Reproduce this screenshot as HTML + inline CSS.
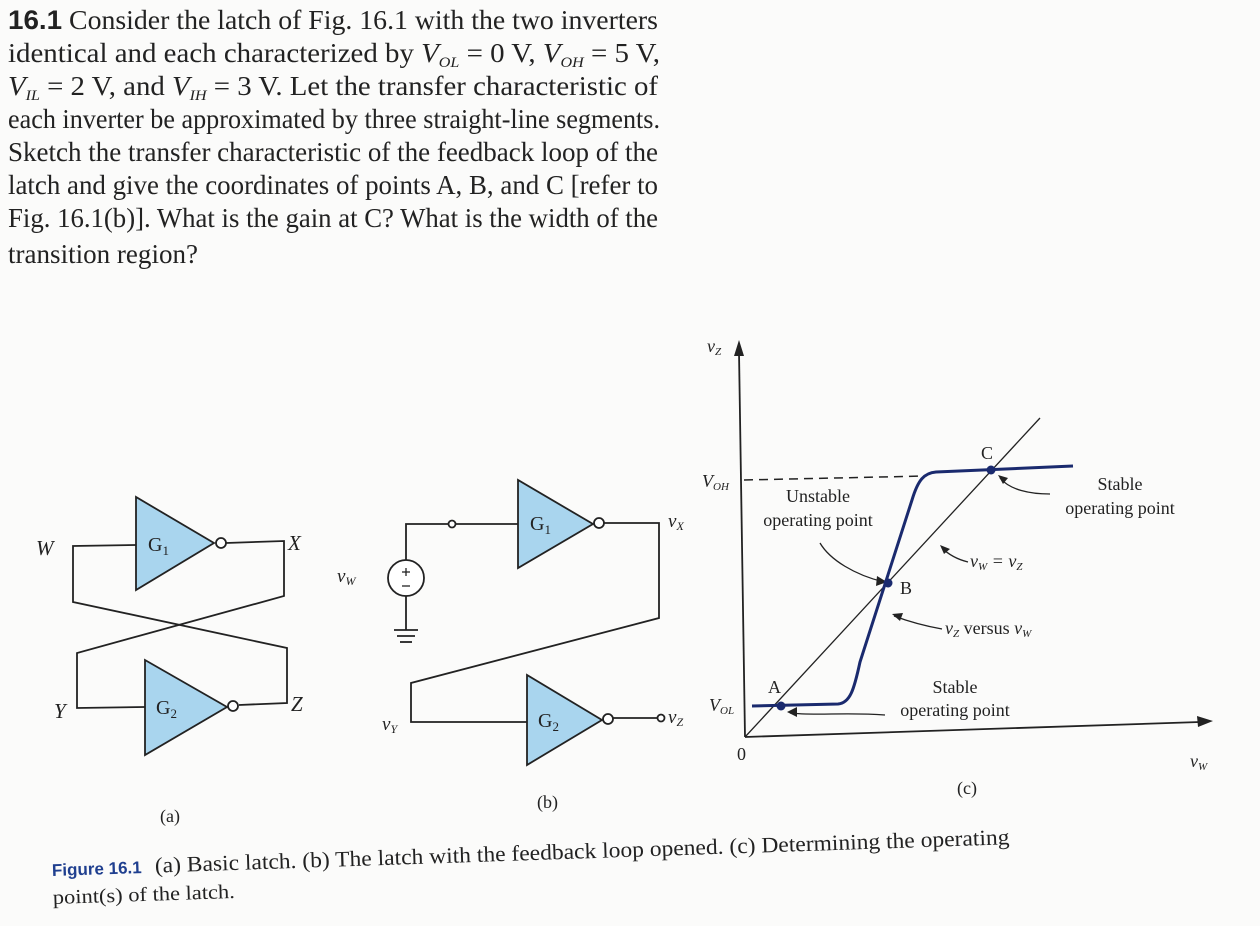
<!DOCTYPE html>
<html><head><meta charset="utf-8"><style>
html,body{margin:0;padding:0;background:#fbfbfa;}
svg{display:block;}
.t{font-family:"Liberation Serif",serif;fill:#222;}
.i{font-style:italic;}
</style></head><body>
<svg width="1260" height="926" viewBox="0 0 1260 926" xmlns="http://www.w3.org/2000/svg">
<rect width="1260" height="926" fill="#fbfbfa"/>
<g class="t" font-size="27">
<text x="8" y="29" textLength="650" lengthAdjust="spacingAndGlyphs"><tspan font-family="Liberation Sans" font-weight="bold">16.1</tspan> Consider the latch of Fig. 16.1 with the two inverters</text>
<text x="8" y="62" textLength="652" lengthAdjust="spacingAndGlyphs">identical and each characterized by <tspan class="i">V</tspan><tspan font-size="15" dy="5" class="i">OL</tspan><tspan dy="-5"> = 0 V, </tspan><tspan class="i">V</tspan><tspan font-size="15" dy="5" class="i">OH</tspan><tspan dy="-5"> = 5 V,</tspan></text>
<text x="8" y="95" textLength="650" lengthAdjust="spacingAndGlyphs"><tspan class="i">V</tspan><tspan font-size="15" dy="5" class="i">IL</tspan><tspan dy="-5"> = 2 V, and </tspan><tspan class="i">V</tspan><tspan font-size="15" dy="5" class="i">IH</tspan><tspan dy="-5"> = 3 V. Let the transfer characteristic of</tspan></text>
<text x="8" y="128" textLength="652" lengthAdjust="spacingAndGlyphs">each inverter be approximated by three straight-line segments.</text>
<text x="8" y="161" textLength="650" lengthAdjust="spacingAndGlyphs">Sketch the transfer characteristic of the feedback loop of the</text>
<text x="8" y="194" textLength="650" lengthAdjust="spacingAndGlyphs">latch and give the coordinates of points A, B, and C [refer to</text>
<text x="8" y="227" textLength="650" lengthAdjust="spacingAndGlyphs">Fig. 16.1(b)]. What is the gain at C? What is the width of the</text>
<text x="8" y="263" textLength="190" lengthAdjust="spacingAndGlyphs">transition region?</text>
</g>

<g stroke="#222" stroke-width="1.8" fill="none">
<polygon points="136,497 136,590 214,543" fill="#a9d5ee"/>
<circle cx="221" cy="543" r="5" fill="#fff"/>
<polyline points="226,543 284,541 284,596 77,653 77,708 145,707"/>
<polyline points="136,545 73,546 73,602 287,648 287,703 239,705"/>
<polygon points="145,660 145,755 227,707" fill="#a9d5ee"/>
<circle cx="233" cy="706" r="5" fill="#fff"/>
</g>
<g class="t" font-size="21">
<text x="148" y="551" font-size="20">G<tspan font-size="13" dy="4">1</tspan></text>
<text x="156" y="714" font-size="20">G<tspan font-size="13" dy="4">2</tspan></text>
<text x="36" y="555" class="i">W</text>
<text x="288" y="550" class="i">X</text>
<text x="54" y="718" class="i">Y</text>
<text x="291" y="711" class="i">Z</text>
<text x="160" y="822" font-size="18">(a)</text>
</g>

<g stroke="#222" stroke-width="1.8" fill="none">
<polygon points="518,480 518,568 593,524" fill="#a9d5ee"/>
<circle cx="599" cy="523" r="5" fill="#fff"/>
<polyline points="604,523 659,523 659,618 411,683 411,722 527,722"/>
<line x1="455" y1="524" x2="518" y2="524"/>
<circle cx="452" cy="524" r="3.5" fill="#fff"/>
<polyline points="449,524 406,524 406,560"/>
<circle cx="406" cy="578" r="18" fill="#fff"/>
<line x1="406" y1="596" x2="406" y2="630"/>
<line x1="394" y1="630" x2="418" y2="630"/>
<line x1="397" y1="636" x2="415" y2="636"/>
<line x1="400" y1="642" x2="412" y2="642"/>
<polygon points="527,675 527,765 602,720" fill="#a9d5ee"/>
<circle cx="608" cy="719" r="5" fill="#fff"/>
<line x1="613" y1="718" x2="658" y2="718"/>
<circle cx="661" cy="718" r="3.5" fill="#fff"/>
<line x1="406" y1="568" x2="406" y2="576" stroke-width="1.3"/>
<line x1="402" y1="572" x2="410" y2="572" stroke-width="1.3"/>
<line x1="402" y1="586" x2="410" y2="586" stroke-width="1.3"/>
</g>
<g class="t" font-size="19">
<text x="530" y="530" font-size="20">G<tspan font-size="13" dy="4">1</tspan></text>
<text x="538" y="727" font-size="20">G<tspan font-size="13" dy="4">2</tspan></text>
<text x="668" y="527" class="i">v<tspan font-size="12" dy="3">X</tspan></text>
<text x="337" y="582" class="i">v<tspan font-size="12" dy="3">W</tspan></text>
<text x="382" y="730" class="i">v<tspan font-size="12" dy="3">Y</tspan></text>
<text x="668" y="723" class="i">v<tspan font-size="12" dy="3">Z</tspan></text>
<text x="537" y="808" font-size="18">(b)</text>
</g>

<g stroke="#222" fill="none">
<line x1="745" y1="737" x2="739" y2="352" stroke-width="1.8"/>
<polygon points="739,340 734,356 744,356" fill="#222" stroke="none"/>
<line x1="745" y1="737" x2="1200" y2="722" stroke-width="1.8"/>
<polygon points="1213,721 1197,716 1198,727" fill="#222" stroke="none"/>
<line x1="745" y1="737" x2="1040" y2="418" stroke-width="1.3"/>
<line x1="744" y1="480" x2="926" y2="476" stroke-width="1.5" stroke-dasharray="9,6"/>
<path d="M752,706 L838,704 C850,703 854,690 860,662 L912,500 C918,480 924,473 936,472 L1073,466" stroke="#1a2a6e" stroke-width="3"/>
<path d="M1050,494 C1030,494 1010,490 1000,478" stroke-width="1.3"/>
<path d="M968,562 C960,560 950,556 942,548" stroke-width="1.3"/>
<path d="M942,629 C925,626 910,622 894,616" stroke-width="1.3"/>
<path d="M820,543 C830,560 855,575 884,582" stroke-width="1.3"/>
<path d="M885,715 C845,712 815,716 790,713" stroke-width="1.3"/>
</g>
<g fill="#222">
<polygon points="998,475 1008,478 1003,484"/>
<polygon points="940,545 950,549 944,554"/>
<polygon points="892,614 903,613 900,621"/>
<polygon points="887,582 877,576 876,586"/>
<polygon points="787,712 797,707 797,717"/>
</g>
<g fill="#1a2a6e">
<circle cx="781" cy="706" r="4.5"/>
<circle cx="888" cy="583" r="4.5"/>
<circle cx="991" cy="470" r="4.5"/>
</g>
<g class="t" font-size="18">
<text x="707" y="352" class="i">v<tspan font-size="11" dy="3">Z</tspan></text>
<text x="702" y="487" class="i">V<tspan font-size="11" dy="3">OH</tspan></text>
<text x="709" y="711" class="i">V<tspan font-size="11" dy="3">OL</tspan></text>
<text x="737" y="760">0</text>
<text x="1190" y="767" class="i">v<tspan font-size="11" dy="3">W</tspan></text>
<text x="957" y="794">(c)</text>
<text x="768" y="693">A</text>
<text x="900" y="594">B</text>
<text x="981" y="459">C</text>
<text x="818" y="502" text-anchor="middle">Unstable</text>
<text x="818" y="526" text-anchor="middle">operating point</text>
<text x="1120" y="490" text-anchor="middle">Stable</text>
<text x="1120" y="514" text-anchor="middle">operating point</text>
<text x="970" y="567" class="i">v<tspan font-size="11" dy="3">W</tspan><tspan dy="-3"> = </tspan>v<tspan font-size="11" dy="3">Z</tspan></text>
<text x="945" y="634"><tspan class="i">v</tspan><tspan font-size="11" dy="3" class="i">Z</tspan><tspan dy="-3"> versus </tspan><tspan class="i">v</tspan><tspan font-size="11" dy="3" class="i">W</tspan></text>
<text x="955" y="693" text-anchor="middle">Stable</text>
<text x="955" y="716" text-anchor="middle">operating point</text>
</g>

<g transform="rotate(-1.9 52 872)">
<text x="52" y="876" font-size="17" fill="#1f3f8f" font-family="Liberation Sans,sans-serif" font-weight="bold">Figure 16.1</text>
<text x="155" y="876" font-size="22" class="t" textLength="855" lengthAdjust="spacingAndGlyphs">(a) Basic latch. (b) The latch with the feedback loop opened. (c) Determining the operating</text>
<text x="52" y="904" font-size="20" class="t" textLength="182" lengthAdjust="spacingAndGlyphs">point(s) of the latch.</text>
</g>
</svg>
</body></html>
